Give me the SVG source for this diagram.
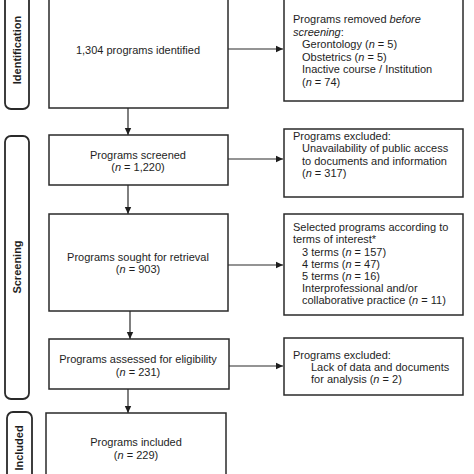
<svg xmlns="http://www.w3.org/2000/svg" width="474" height="474" viewBox="0 0 474 474">
<style>
.box{fill:#fff;stroke:#2a2a2a;stroke-width:1.5}
.pill{fill:#fff;stroke:#2a2a2a;stroke-width:1.8}
.t{font-family:"Liberation Sans",Arial,sans-serif;font-size:11px;fill:#1e1e1e}
.c{text-anchor:middle}
.lbl{font-family:"Liberation Sans",Arial,sans-serif;font-size:11px;font-weight:bold;fill:#1e1e1e;text-anchor:middle}
.ln{stroke:#2a2a2a;stroke-width:1.2;fill:none}
</style>
<defs>
<marker id="ah" markerWidth="8" markerHeight="8" refX="7" refY="4" orient="auto" markerUnits="userSpaceOnUse">
<path d="M0,0.8 L7,4 L0,7.2 Z" fill="#1e1e1e"/>
</marker>
</defs>
<rect width="474" height="474" fill="#fff"/>
<g id="label-identification">
<rect class="pill" x="5" y="-12" width="24" height="121" rx="6"/>
<text class="lbl" transform="translate(21,50) rotate(-90)">Identification</text>
</g>
<g id="label-screening">
<rect class="pill" x="5" y="136" width="24" height="263" rx="6"/>
<text class="lbl" transform="translate(21,267) rotate(-90)">Screening</text>
</g>
<g id="label-included">
<rect class="pill" x="7" y="412" width="25" height="80" rx="6"/>
<text class="lbl" transform="translate(23,448) rotate(-90)">Included</text>
</g>
<g id="connectors">
<line class="ln" x1="128" y1="108" x2="128" y2="135" marker-end="url(#ah)"/>
<line class="ln" x1="128" y1="185" x2="128" y2="214" marker-end="url(#ah)"/>
<line class="ln" x1="130" y1="311" x2="130" y2="339" marker-end="url(#ah)"/>
<line class="ln" x1="128" y1="389" x2="128" y2="413" marker-end="url(#ah)"/>
<line class="ln" x1="228" y1="49" x2="283" y2="49" marker-end="url(#ah)"/>
<line class="ln" x1="228" y1="159" x2="283" y2="159" marker-end="url(#ah)"/>
<line class="ln" x1="228" y1="265" x2="283" y2="265" marker-end="url(#ah)"/>
<line class="ln" x1="229" y1="366" x2="283" y2="366" marker-end="url(#ah)"/>
</g>
<g id="identified">
<rect class="box" x="49" y="-12" width="179" height="120"/>
<text class="t c" x="138" y="54">1,304 programs identified</text>
</g>
<g id="removed">
<rect class="box" x="284" y="-12" width="179" height="113"/>
<text class="t" x="293" y="23">Programs removed <tspan font-style="italic">before</tspan></text>
<text class="t" x="293" y="35.5"><tspan font-style="italic">screening</tspan>:</text>
<text class="t" x="302" y="48">Gerontology (<tspan font-style="italic">n</tspan> = 5)</text>
<text class="t" x="302" y="60.5">Obstetrics (<tspan font-style="italic">n</tspan> = 5)</text>
<text class="t" x="302" y="73">Inactive course / Institution</text>
<text class="t" x="302" y="85.5">(<tspan font-style="italic">n</tspan> = 74)</text>
</g>
<g id="screened">
<rect class="box" x="49" y="135" width="179" height="50"/>
<text class="t c" x="138" y="159">Programs screened</text>
<text class="t c" x="138" y="171">(<tspan font-style="italic">n</tspan> = 1,220)</text>
</g>
<g id="excluded1">
<rect class="box" x="284" y="129" width="179" height="68"/>
<text class="t" x="293" y="140">Programs excluded:</text>
<text class="t" x="302" y="152">Unavailability of public access</text>
<text class="t" x="302" y="165">to documents and information</text>
<text class="t" x="302" y="177">(<tspan font-style="italic">n</tspan> = 317)</text>
</g>
<g id="sought">
<rect class="box" x="49" y="214" width="179" height="97"/>
<text class="t c" x="138" y="261">Programs sought for retrieval</text>
<text class="t c" x="138" y="273">(<tspan font-style="italic">n</tspan> = 903)</text>
</g>
<g id="selected">
<rect class="box" x="284" y="214" width="179" height="101"/>
<text class="t" x="293" y="231">Selected programs according to</text>
<text class="t" x="293" y="243">terms of interest*</text>
<text class="t" x="302" y="256">3 terms (<tspan font-style="italic">n</tspan> = 157)</text>
<text class="t" x="302" y="268">4 terms (<tspan font-style="italic">n</tspan> = 47)</text>
<text class="t" x="302" y="280">5 terms (<tspan font-style="italic">n</tspan> = 16)</text>
<text class="t" x="302" y="292">Interprofessional and/or</text>
<text class="t" x="302" y="304">collaborative practice (<tspan font-style="italic">n</tspan> = 11)</text>
</g>
<g id="assessed">
<rect class="box" x="49" y="339" width="180" height="50"/>
<text class="t c" x="138" y="363">Programs assessed for eligibility</text>
<text class="t c" x="138" y="376">(<tspan font-style="italic">n</tspan> = 231)</text>
</g>
<g id="excluded2">
<rect class="box" x="284" y="338" width="179" height="57"/>
<text class="t" x="293" y="359">Programs excluded:</text>
<text class="t" x="311" y="371">Lack of data and documents</text>
<text class="t" x="311" y="383">for analysis (<tspan font-style="italic">n</tspan> = 2)</text>
</g>
<g id="included">
<rect class="box" x="46" y="413" width="180" height="80"/>
<text class="t c" x="136" y="446">Programs included</text>
<text class="t c" x="136" y="459">(<tspan font-style="italic">n</tspan> = 229)</text>
</g>
</svg>
